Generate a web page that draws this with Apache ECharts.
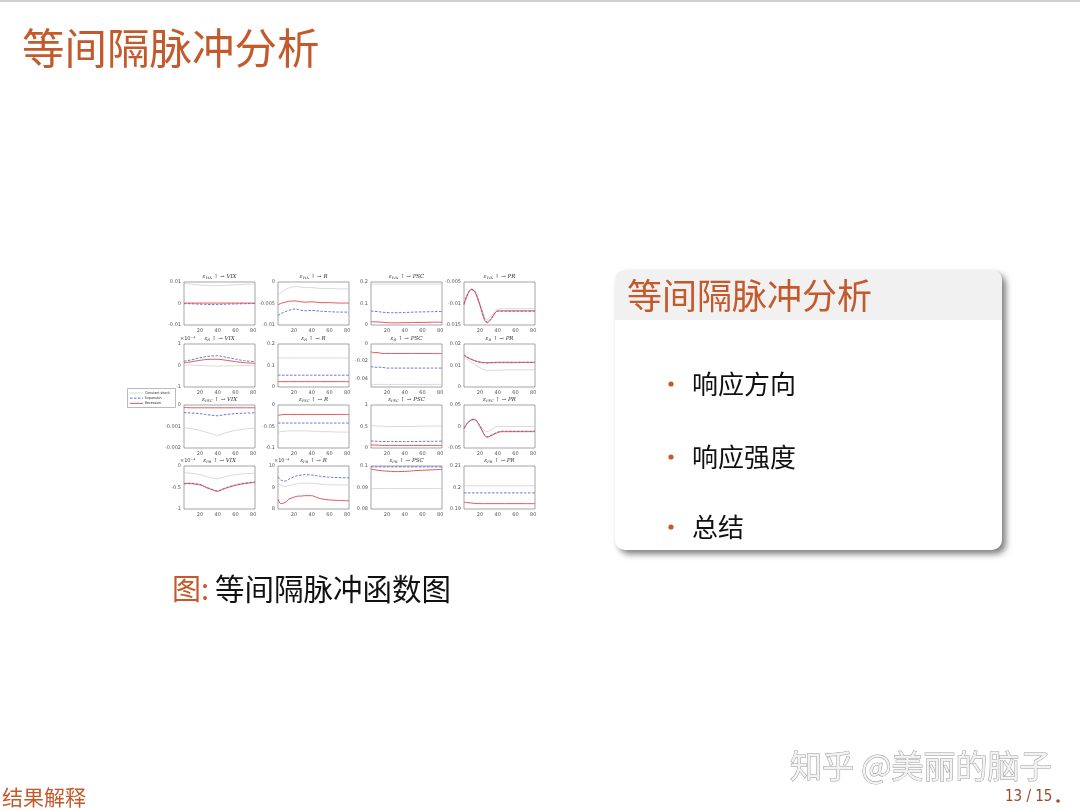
<!DOCTYPE html>
<html>
<head>
<meta charset="utf-8">
<script src="https://cdn.jsdelivr.net/npm/echarts@6/dist/echarts.min.js"></script>
<style>
html,body{margin:0;padding:0;background:#fff;}
#c{width:1080px;height:810px;}
</style>
</head>
<body>
<div id="c"></div>
<script>
// ---------- data ----------
const horizon = [2,5,10,14,20,25,28,32,40,45,50,60,70,82];
const seriesNames = ['Constant shock','Expansion','Recession'];
const shockNames = ['VIX','R','PSC','PR'];
const responseNames = ['VIX','R','PSC','PR'];

// row 1: VIX shock
const vixVix_const = [0.0093,0.0092,0.0090,0.0088,0.0086,0.0085,0.0084,0.0083,0.0083,0.0084,0.0085,0.0087,0.0089,0.0091];
const vixVix_exp   = [0.0000,-0.0001,-0.0001,-0.0002,-0.0003,-0.0004,-0.0004,-0.0005,-0.0005,-0.0004,-0.0003,-0.0002,-0.0001,0.0000];
const vixVix_rec   = [0.0002,0.0002,0.0002,0.0002,0.0002,0.0002,0.0002,0.0002,0.0002,0.0002,0.0002,0.0002,0.0002,0.0002];
const vixR_const = [-0.0032,-0.0025,-0.0018,-0.0014,-0.0011,-0.0011,-0.0012,-0.0013,-0.0013,-0.0014,-0.0015,-0.0015,-0.0016,-0.0016];
const vixR_exp   = [-0.0078,-0.0074,-0.0069,-0.0066,-0.0063,-0.0064,-0.0066,-0.0067,-0.0066,-0.0067,-0.0068,-0.0069,-0.0070,-0.0070];
const vixR_rec   = [-0.0053,-0.0050,-0.0047,-0.0045,-0.0044,-0.0045,-0.0046,-0.0047,-0.0046,-0.0047,-0.0048,-0.0048,-0.0049,-0.0049];
const vixPsc_const = [0.190,0.190,0.190,0.190,0.190,0.190,0.190,0.190,0.190,0.190,0.190,0.190,0.190,0.190];
const vixPsc_exp   = [0.065,0.064,0.062,0.060,0.058,0.057,0.057,0.057,0.058,0.059,0.060,0.061,0.062,0.063];
const vixPsc_rec   = [0.015,0.015,0.014,0.013,0.011,0.010,0.010,0.010,0.011,0.011,0.012,0.012,0.013,0.013];
const vixPr_const = [-0.0098,-0.0082,-0.0066,-0.0069,-0.0100,-0.0130,-0.0138,-0.0130,-0.0113,-0.0112,-0.0112,-0.0112,-0.0112,-0.0112];
const vixPr_exp   = [-0.0100,-0.0083,-0.0067,-0.0071,-0.0103,-0.0135,-0.0143,-0.0136,-0.0118,-0.0118,-0.0118,-0.0118,-0.0118,-0.0118];
const vixPr_rec   = [-0.0103,-0.0085,-0.0068,-0.0072,-0.0105,-0.0138,-0.0145,-0.0138,-0.0117,-0.0117,-0.0117,-0.0117,-0.0117,-0.0117];

// row 2: R shock
const rVix_const = [0.02,0.02,0.02,0.01,0.00,-0.01,-0.02,-0.02,-0.03,-0.02,-0.02,-0.01,0.00,0.00];
const rVix_exp   = [0.20,0.22,0.26,0.30,0.36,0.40,0.42,0.44,0.45,0.42,0.38,0.30,0.22,0.18];
const rVix_rec   = [0.12,0.14,0.17,0.20,0.24,0.27,0.28,0.29,0.29,0.27,0.24,0.18,0.13,0.10];
const rR_const = [0.135,0.135,0.135,0.135,0.135,0.135,0.135,0.135,0.135,0.135,0.135,0.135,0.135,0.135];
const rR_exp   = [0.055,0.055,0.055,0.055,0.055,0.055,0.055,0.055,0.055,0.055,0.055,0.055,0.055,0.055];
const rR_rec   = [0.025,0.025,0.025,0.025,0.025,0.025,0.025,0.025,0.025,0.025,0.025,0.025,0.025,0.025];
const rPsc_const = [-0.047,-0.047,-0.047,-0.047,-0.047,-0.047,-0.047,-0.047,-0.047,-0.047,-0.047,-0.047,-0.047,-0.047];
const rPsc_exp   = [-0.026,-0.027,-0.027,-0.027,-0.028,-0.028,-0.028,-0.028,-0.028,-0.028,-0.028,-0.028,-0.028,-0.028];
const rPsc_rec   = [-0.009,-0.010,-0.010,-0.011,-0.011,-0.011,-0.011,-0.011,-0.011,-0.011,-0.011,-0.011,-0.011,-0.011];
const rPr_const = [0.0140,0.0130,0.0116,0.0105,0.0090,0.0080,0.0077,0.0077,0.0078,0.0079,0.0080,0.0080,0.0080,0.0080];
const rPr_exp   = [0.0150,0.0141,0.0130,0.0123,0.0115,0.0112,0.0111,0.0112,0.0113,0.0113,0.0113,0.0113,0.0114,0.0114];
const rPr_rec   = [0.0148,0.0139,0.0129,0.0122,0.0116,0.0114,0.0113,0.0114,0.0115,0.0115,0.0115,0.0115,0.0115,0.0115];

// row 3: PSC shock
const pscVix_const = [-0.00105,-0.00107,-0.00110,-0.00113,-0.00118,-0.00124,-0.00128,-0.00133,-0.00142,-0.00135,-0.00128,-0.00118,-0.00112,-0.00108];
const pscVix_exp   = [-0.00035,-0.00036,-0.00037,-0.00038,-0.00040,-0.00043,-0.00045,-0.00047,-0.00050,-0.00047,-0.00044,-0.00040,-0.00038,-0.00036];
const pscVix_rec   = [-0.00012,-0.00012,-0.00013,-0.00013,-0.00013,-0.00013,-0.00013,-0.00013,-0.00013,-0.00013,-0.00013,-0.00013,-0.00013,-0.00013];
const pscR_const = [-0.063,-0.062,-0.061,-0.060,-0.060,-0.060,-0.060,-0.060,-0.061,-0.061,-0.062,-0.062,-0.063,-0.063];
const pscR_exp   = [-0.042,-0.042,-0.042,-0.042,-0.042,-0.042,-0.042,-0.042,-0.042,-0.042,-0.042,-0.042,-0.042,-0.042];
const pscR_rec   = [-0.024,-0.023,-0.022,-0.022,-0.022,-0.022,-0.022,-0.022,-0.022,-0.022,-0.022,-0.022,-0.022,-0.022];
const pscPsc_const = [0.52,0.52,0.51,0.51,0.50,0.50,0.50,0.50,0.50,0.50,0.50,0.51,0.51,0.51];
const pscPsc_exp   = [0.16,0.16,0.155,0.15,0.15,0.15,0.15,0.15,0.15,0.15,0.15,0.155,0.155,0.16];
const pscPsc_rec   = [0.07,0.07,0.065,0.06,0.06,0.06,0.06,0.06,0.06,0.06,0.06,0.06,0.06,0.06];
const pscPr_const = [-0.003,0.006,0.014,0.015,0.002,-0.010,-0.012,-0.008,0.000,0.000,0.000,0.000,0.000,0.000];
const pscPr_exp   = [-0.004,0.006,0.016,0.017,0.001,-0.019,-0.024,-0.021,-0.013,-0.011,-0.011,-0.011,-0.011,-0.011];
const pscPr_rec   = [-0.005,0.005,0.015,0.016,0.000,-0.020,-0.025,-0.022,-0.014,-0.012,-0.012,-0.012,-0.012,-0.012];

// row 4: PR shock
const prVix_const = [-0.16,-0.16,-0.17,-0.18,-0.20,-0.23,-0.25,-0.27,-0.30,-0.27,-0.24,-0.20,-0.18,-0.17];
const prVix_exp   = [-0.41,-0.40,-0.40,-0.41,-0.43,-0.47,-0.50,-0.53,-0.58,-0.54,-0.50,-0.44,-0.40,-0.37];
const prVix_rec   = [-0.42,-0.41,-0.41,-0.42,-0.44,-0.48,-0.51,-0.54,-0.59,-0.55,-0.51,-0.45,-0.41,-0.38];
const prR_const = [9.20,9.10,9.05,9.08,9.15,9.18,9.20,9.20,9.20,9.18,9.15,9.12,9.12,9.12];
const prR_exp   = [9.50,9.35,9.30,9.38,9.50,9.56,9.58,9.60,9.58,9.55,9.52,9.48,9.46,9.45];
const prR_rec   = [8.45,8.25,8.30,8.45,8.55,8.60,8.60,8.62,8.62,8.55,8.48,8.42,8.40,8.38];
const prPsc_const = [0.0895,0.0895,0.0895,0.0895,0.0895,0.0895,0.0895,0.0895,0.0895,0.0895,0.0895,0.0895,0.0895,0.0895];
const prPsc_exp   = [0.0996,0.0996,0.0996,0.0996,0.0996,0.0996,0.0996,0.0996,0.0996,0.0996,0.0996,0.0996,0.0996,0.0996];
const prPsc_rec   = [0.0985,0.0983,0.0980,0.0978,0.0976,0.0975,0.0974,0.0974,0.0975,0.0976,0.0978,0.0980,0.0982,0.0984];
const prPr_const = [0.2008,0.2008,0.2008,0.2008,0.2008,0.2008,0.2008,0.2008,0.2008,0.2008,0.2008,0.2008,0.2008,0.2008];
const prPr_exp   = [0.1975,0.1975,0.1975,0.1975,0.1975,0.1975,0.1975,0.1975,0.1975,0.1975,0.1975,0.1975,0.1975,0.1975];
const prPr_rec   = [0.1932,0.1930,0.1928,0.1926,0.1925,0.1925,0.1925,0.1925,0.1925,0.1925,0.1925,0.1925,0.1925,0.1925];

// x tick labels
const xTickLabels = [20,40,60,80];

// y axis ranges and tick labels per panel (row-major)
const yMin  = [-0.01,-0.01,0,-0.015,  -1,0,-0.05,0,  -0.002,-0.1,0,-0.05,  -1,8,0.08,0.19];
const yMax  = [0.01,0,0.2,-0.005,     1,0.2,0,0.02,  0,0,1,0.05,           0,10,0.1,0.21];
const yStep = [0.01,0.005,0.1,0.005,  1,0.1,0.01,0.01, 0.001,0.05,0.5,0.05, 0.5,1,0.01,0.01];
const yTickLabels = [
  ['-0.01','0','0.01'], ['-0.01','-0.005','0'], ['0','0.1','0.2'], ['-0.015','-0.01','-0.005'],
  ['-1','0','1'], ['0','0.1','0.2'], ['-0.04','-0.02','0'], ['0','0.01','0.02'],
  ['-0.002','-0.001','0'], ['-0.1','-0.05','0'], ['0','0.5','1'], ['-0.05','0','0.05'],
  ['-1','-0.5','0'], ['8','9','10'], ['0.08','0.09','0.1'], ['0.19','0.2','0.21']
];
const scaleNote = ['', '', '', '', '×10⁻⁴', '', '', '', '', '', '', '', '×10⁻⁴', '×10⁻⁴', '', ''];

const panelData = [
  [vixVix_const,vixVix_exp,vixVix_rec],[vixR_const,vixR_exp,vixR_rec],[vixPsc_const,vixPsc_exp,vixPsc_rec],[vixPr_const,vixPr_exp,vixPr_rec],
  [rVix_const,rVix_exp,rVix_rec],[rR_const,rR_exp,rR_rec],[rPsc_const,rPsc_exp,rPsc_rec],[rPr_const,rPr_exp,rPr_rec],
  [pscVix_const,pscVix_exp,pscVix_rec],[pscR_const,pscR_exp,pscR_rec],[pscPsc_const,pscPsc_exp,pscPsc_rec],[pscPr_const,pscPr_exp,pscPr_rec],
  [prVix_const,prVix_exp,prVix_rec],[prR_const,prR_exp,prR_rec],[prPsc_const,prPsc_exp,prPsc_rec],[prPr_const,prPr_exp,prPr_rec]
];

// ---------- layout / style ----------
const colLeft = [184,278,371,464];
const rowTop = [282,344,405,466];
const PW = 71, PH = 43;
const ORANGE = '#C4592B';
const CJK = '"Noto Sans CJK SC", "Noto Sans", sans-serif';
const lineStyles = [
  {color:'#c8c8c8', width:0.7, type:'solid'},
  {color:'#4352d4', width:0.8, type:[2.5,1.5]},
  {color:'#e2434c', width:0.9, type:'solid'}
];

const grids = [], xAxes = [], yAxes = [], series = [], graphics = [];

for (let p = 0; p < 16; p++) {
  const r = Math.floor(p/4), c = p % 4;
  const left = colLeft[c], top = rowTop[r];
  grids.push({left:left, top:top, width:PW, height:PH, show:true, borderColor:'#6a6a6a', borderWidth:0.6, backgroundColor:'#fff', containLabel:false});
  xAxes.push({
    type:'value', gridIndex:p, min:2, max:82, interval:2,
    axisLine:{show:false}, axisTick:{show:false}, splitLine:{show:false},
    axisLabel:{fontSize:5, color:'#555', margin:3, fontFamily:'DejaVu Sans',
      formatter: v => { const k = Math.round(v); return xTickLabels.indexOf(k) >= 0 ? String(k) : ''; }}
  });
  const vals = yTickLabels[p].map(Number), strs = yTickLabels[p];
  const st = yStep[p];
  yAxes.push({
    type:'value', gridIndex:p, min:yMin[p], max:yMax[p], interval:st,
    axisLine:{show:false}, axisTick:{show:false}, splitLine:{show:false},
    axisLabel:{fontSize:5, color:'#555', margin:3, fontFamily:'DejaVu Sans',
      formatter: v => { for (let i=0;i<vals.length;i++){ if (Math.abs(v - vals[i]) < st*1e-3) return strs[i]; } return ''; }}
  });
  for (let s = 0; s < 3; s++) {
    series.push({
      name: seriesNames[s], type:'line', xAxisIndex:p, yAxisIndex:p,
      data: horizon.map((x,i) => [x, panelData[p][s][i]]),
      symbol:'none', smooth:0.3, lineStyle: lineStyles[s], silent:true, animation:false, clip:true
    });
  }
  // panel title
  graphics.push({
    type:'text', x: left + PW/2, y: top - 5,
    style:{
      text: '{e|ε}{s|' + shockNames[r] + '}{e| ↑ → ' + responseNames[c] + '}',
      align:'center', verticalAlign:'middle', fill:'#333',
      rich:{
        e:{fontSize:5.5, fontStyle:'italic', fontFamily:'DejaVu Serif', fill:'#333'},
        s:{fontSize:3.6, fontStyle:'italic', fontFamily:'DejaVu Serif', fill:'#333', padding:[3,0,0,0]}
      }
    }
  });
  if (scaleNote[p]) {
    graphics.push({type:'text', x:left - 4, y: top - 5,
      style:{text: scaleNote[p], fontSize:5, fontFamily:'DejaVu Sans', fill:'#444', align:'left', verticalAlign:'middle'}});
  }
}

// legend (drawn as a small boxed key, styles follow the series)
graphics.push({type:'rect', shape:{x:127.5, y:388.5, width:48, height:19}, style:{fill:'#fff', stroke:'#777', lineWidth:0.5}});
for (let s = 0; s < 3; s++) {
  const yy = 393 + s*5.2;
  graphics.push({type:'line', shape:{x1:130, y1:yy, x2:143, y2:yy},
    style:{stroke:lineStyles[s].color, lineWidth:lineStyles[s].width, lineDash: Array.isArray(lineStyles[s].type) ? lineStyles[s].type : null}});
  graphics.push({type:'text', x:145, y:yy, style:{text:seriesNames[s], fontSize:3.6, fontFamily:'DejaVu Sans Condensed, DejaVu Sans', fill:'#333', verticalAlign:'middle'}});
}

// ---------- slide decoration ----------
graphics.push(
  {type:'rect', shape:{x:0,y:0,width:1080,height:2}, style:{fill:'#d0d0d0'}},
  {type:'text', x:22, y:48, style:{text:'等间隔脉冲分析', font:'42.5px ' + CJK, fill:ORANGE, verticalAlign:'middle'}},
  // right box
  {type:'rect', shape:{x:615,y:270,width:387,height:280,r:10}, style:{fill:'#fff', shadowBlur:6, shadowOffsetX:4, shadowOffsetY:4, shadowColor:'rgba(0,0,0,0.5)'}},
  {type:'rect', shape:{x:615,y:270,width:387,height:50,r:[10,10,0,0]}, style:{fill:'#f1f1f1'}},
  {type:'text', x:627, y:296, style:{text:'等间隔脉冲分析', font:'35px ' + CJK, fill:ORANGE, verticalAlign:'middle'}},
  {type:'circle', shape:{cx:671, cy:384, r:2.6}, style:{fill:ORANGE}},
  {type:'circle', shape:{cx:671, cy:457, r:2.6}, style:{fill:ORANGE}},
  {type:'circle', shape:{cx:671, cy:527, r:2.6}, style:{fill:ORANGE}},
  {type:'text', x:692, y:384, style:{text:'响应方向', font:'26px ' + CJK, fill:'#111', verticalAlign:'middle'}},
  {type:'text', x:692, y:457, style:{text:'响应强度', font:'26px ' + CJK, fill:'#111', verticalAlign:'middle'}},
  {type:'text', x:692, y:527, style:{text:'总结', font:'26px ' + CJK, fill:'#111', verticalAlign:'middle'}},
  // caption
  {type:'text', x:172, y:589, style:{text:'图:', font:'29px ' + CJK, fill:ORANGE, verticalAlign:'middle'}},
  {type:'text', x:215, y:589, style:{text:'等间隔脉冲函数图', font:'29.5px ' + CJK, fill:'#111', verticalAlign:'middle'}},
  // watermark
  {type:'text', x:790, y:766, style:{text:'知乎 @美丽的脑子', font:'32px ' + CJK, fill:'#f2f2f2', stroke:'#9a9a9a', lineWidth:1, verticalAlign:'middle'}},
  // footer
  {type:'text', x:2, y:797, style:{text:'结果解释', font:'21px ' + CJK, fill:ORANGE, verticalAlign:'middle'}},
  {type:'text', x:1005, y:797, style:{text:'13 / 15', font:'15px "DejaVu Sans Condensed", "DejaVu Sans", sans-serif', fill:'#9a4a2a', verticalAlign:'middle'}},
  {type:'circle', shape:{cx:1058, cy:801, r:1.8}, style:{fill:'#9a4a2a'}}
);

const chart = echarts.init(document.getElementById('c'), null, {renderer:'canvas'});
chart.setOption({
  backgroundColor:'#fff',
  animation:false,
  grid: grids,
  xAxis: xAxes,
  yAxis: yAxes,
  series: series,
  graphic: graphics
});
</script>
</body>
</html>
